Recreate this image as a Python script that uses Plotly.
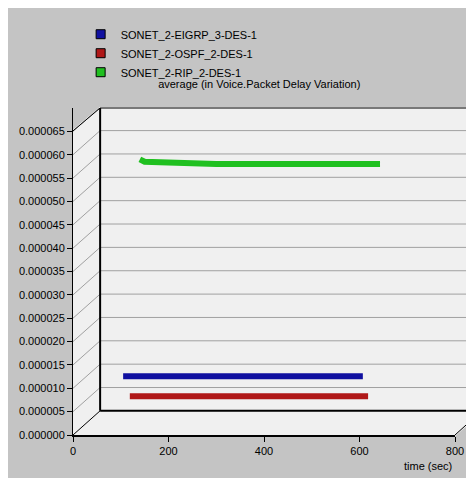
import plotly.graph_objects as go

series_names = ["SONET_2-EIGRP_3-DES-1", "SONET_2-OSPF_2-DES-1", "SONET_2-RIP_2-DES-1"]
series_colors = ["#1010a0", "#b01818", "#20c020"]
eigrp_t = [105, 300, 607]
eigrp_v = [0.0000126, 0.0000126, 0.0000126]
ospf_t = [119, 300, 618]
ospf_v = [0.0000083, 0.0000083, 0.0000083]
rip_t = [140, 150, 300, 643]
rip_v = [0.0000590, 0.0000585, 0.0000580, 0.0000580]
y_ticks = [i * 0.000005 for i in range(14)]
x_ticks = [0, 200, 400, 600, 800]

fig = go.Figure()
for name, col, t, v in zip(series_names, series_colors,
                           [eigrp_t, ospf_t, rip_t], [eigrp_v, ospf_v, rip_v]):
    fig.add_trace(go.Scatter(x=t, y=v, mode="lines", name=name, showlegend=False,
                             line=dict(color=col, width=6)))
    # square swatch for the legend only
    fig.add_trace(go.Scatter(x=[None], y=[None], mode="markers", name=name,
                             marker=dict(symbol="square", size=9, color=col,
                                         line=dict(color="black", width=1))))

# pseudo-3D box
ymax = 0.00007
dy = 25 / 339 * ymax
shapes = [dict(type="path", xref="paper", yref="paper",
               path="M 0 0 L 0 0.93 L 0.071 1 L 1.07 1 L 1.07 0.074 L 1 0 Z",
               fillcolor="#f0f0f0", line=dict(color="#f0f0f0"), layer="below")]
for yv in y_ticks[1:]:
    shapes.append(dict(type="line", xref="paper", yref="y", x0=0.071, x1=1.07,
                       y0=yv + dy, y1=yv + dy, line=dict(color="#a0a0a0", width=1), layer="below"))
    shapes.append(dict(type="line", xref="paper", yref="y", x0=0, x1=0.071,
                       y0=yv, y1=yv + dy, line=dict(color="#a0a0a0", width=1), layer="below"))
shapes += [
    dict(type="line", xref="paper", yref="paper", x0=0.071, x1=0.071, y0=0.074, y1=1,
         line=dict(color="black", width=2)),
    dict(type="line", xref="paper", yref="paper", x0=0.071, x1=1.07, y0=0.074, y1=0.074,
         line=dict(color="black", width=2)),
    dict(type="line", xref="paper", yref="paper", x0=0, x1=0.071, y0=0, y1=0.074,
         line=dict(color="black", width=1)),
    dict(type="line", xref="paper", yref="paper", x0=1, x1=1.07, y0=0, y1=0.074,
         line=dict(color="black", width=1)),
    dict(type="line", xref="paper", yref="paper", x0=0, x1=0.071, y0=0.93, y1=1,
         line=dict(color="black", width=1)),
    dict(type="line", xref="paper", yref="paper", x0=0.071, x1=1.07, y0=1, y1=1,
         line=dict(color="black", width=1)),
]

fig.update_layout(
    width=474, height=478,
    margin=dict(l=65, r=27, t=88, b=51),
    paper_bgcolor="#c4c4c4", plot_bgcolor="#c4c4c4",
    font=dict(family="Arial", size=11, color="black"),
    shapes=shapes,
    title=dict(text="average (in Voice.Packet Delay Variation)", x=0.53, xanchor="center",
               y=0.84, yanchor="middle", font=dict(size=11)),
    legend=dict(x=0.02, y=1.27, xanchor="left", yanchor="top", bgcolor="rgba(0,0,0,0)",
                tracegroupgap=0, itemwidth=30, font=dict(size=11)),
    annotations=[dict(text="time (sec)", x=0.93, y=-0.095, xref="paper", yref="paper",
                      xanchor="center", yanchor="middle", showarrow=False)],
    xaxis=dict(range=[0, 800], tickvals=x_ticks, showgrid=False, zeroline=False,
               showline=True, linecolor="black", linewidth=2, ticks="outside",
               ticklen=5, tickcolor="black"),
    yaxis=dict(range=[0, ymax], tickvals=y_ticks, tickformat=".6f", showgrid=False,
               zeroline=False, showline=True, linecolor="black", linewidth=1,
               ticks="outside", ticklen=5, tickcolor="black"),
)
fig.write_html("out.html")
